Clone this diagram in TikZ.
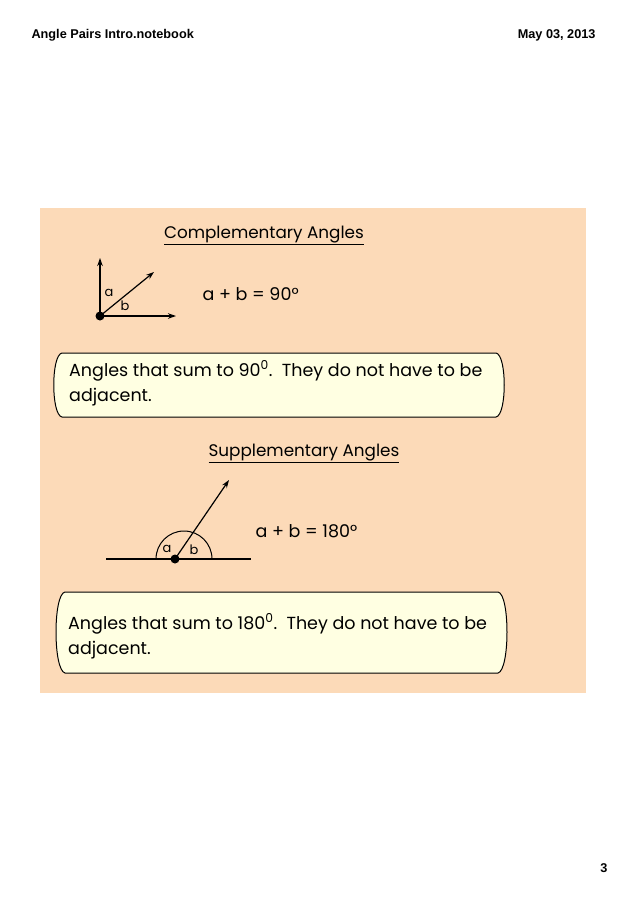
\documentclass[tikz,border=0pt]{standalone}
\usepackage{fontspec}
\setmainfont{Poppins}
\newfontfamily\headfont{Liberation Sans}
\usetikzlibrary{positioning, arrows.meta}
\definecolor{peach}{RGB}{252,218,184}
\definecolor{paleyellow}{RGB}{255,255,226}

\begin{document}
\begin{tikzpicture}[x=1pt, y=-1pt,
    heading/.style={font=\fontsize{16.8}{19}\selectfont, anchor=base},
    eqn/.style={font=\fontsize{17.5}{19}\selectfont, anchor=base west},
    boxtext/.style={font=\fontsize{17.5}{25}\selectfont, align=left, anchor=base west, inner sep=0pt},
    lbl/.style={font=\fontsize{13}{14}\selectfont, inner sep=0pt},
    ray/.style={-{Stealth[length=8pt, width=5.5pt]}, line width=1.2pt},
    scroll/.style={draw, fill=paleyellow, line width=1pt},
    pagetext/.style={font=\headfont\bfseries\fontsize{12.7}{15}\selectfont}]
    \useasboundingbox (0,0) rectangle (638,903);

    % Page header and footer
    \node[pagetext, anchor=base west] (header) at (28,38) {Angle Pairs Intro.notebook};
    \node[pagetext, anchor=base east] (date) at (599,38) {May 03, 2013};
    \node[pagetext, anchor=base] (pagenum) at (604,872) {3};

    % Panel
    \fill[peach] (40,208) rectangle (586,693);

    % Complementary Angles
    \node[heading] (comptitle) at (264,238) {\underline{Complementary Angles}};
    \coordinate (cvtx) at (100,316);
    \coordinate (cup) at (100,258);
    \coordinate (cright) at (176,316);
    \coordinate (cdiag) at (154,272);
    \draw[ray] (cvtx) -- (cup);
    \draw[ray] (cvtx) -- (cright);
    \draw[ray] (cvtx) -- (cdiag);
    \fill (cvtx) circle (4.5);
    \node[lbl] (ca) at (109,293) {a};
    \node[lbl] (cb) at (125,306) {b};
    \node[eqn] (compeq) at (199,300) {a + b = 90°};

    % Complementary box
    \draw[scroll] (62,353) -- (496,353) .. controls (507,355) and (507,415) .. (496,417)
        -- (62,417) .. controls (51,415) and (51,355) .. cycle;
    \node[boxtext] (compdef) at (69,401) {Angles that sum to 90\textsuperscript{0}.\ \ They do not have to be\\adjacent.};

    % Supplementary Angles
    \node[heading] (supptitle) at (304,456) {\underline{Supplementary Angles}};
    \coordinate (svtx) at (175,559);
    \coordinate (sleft) at (106,559);
    \coordinate (sright) at (251,559);
    \coordinate (sray) at (229,480);
    \draw[line width=1.2pt] (sleft) -- (sright);
    \draw[line width=1pt] (156,559) arc[start angle=180, end angle=360, radius=28];
    \draw[ray] (svtx) -- (sray);
    \fill (svtx) circle (4.5);
    \node[lbl] (sa) at (167,549) {a};
    \node[lbl] (sb) at (194,550) {b};
    \node[eqn] (suppeq) at (252,537) {a + b = 180°};

    % Supplementary box
    \draw[scroll] (65,592) -- (498,592) .. controls (510,594) and (510,670) .. (498,673)
        -- (65,673) .. controls (53,670) and (53,594) .. cycle;
    \node[boxtext] (suppdef) at (68,654) {Angles that sum to 180\textsuperscript{0}.\ \ They do not have to be\\adjacent.};
\end{tikzpicture}
\end{document}
